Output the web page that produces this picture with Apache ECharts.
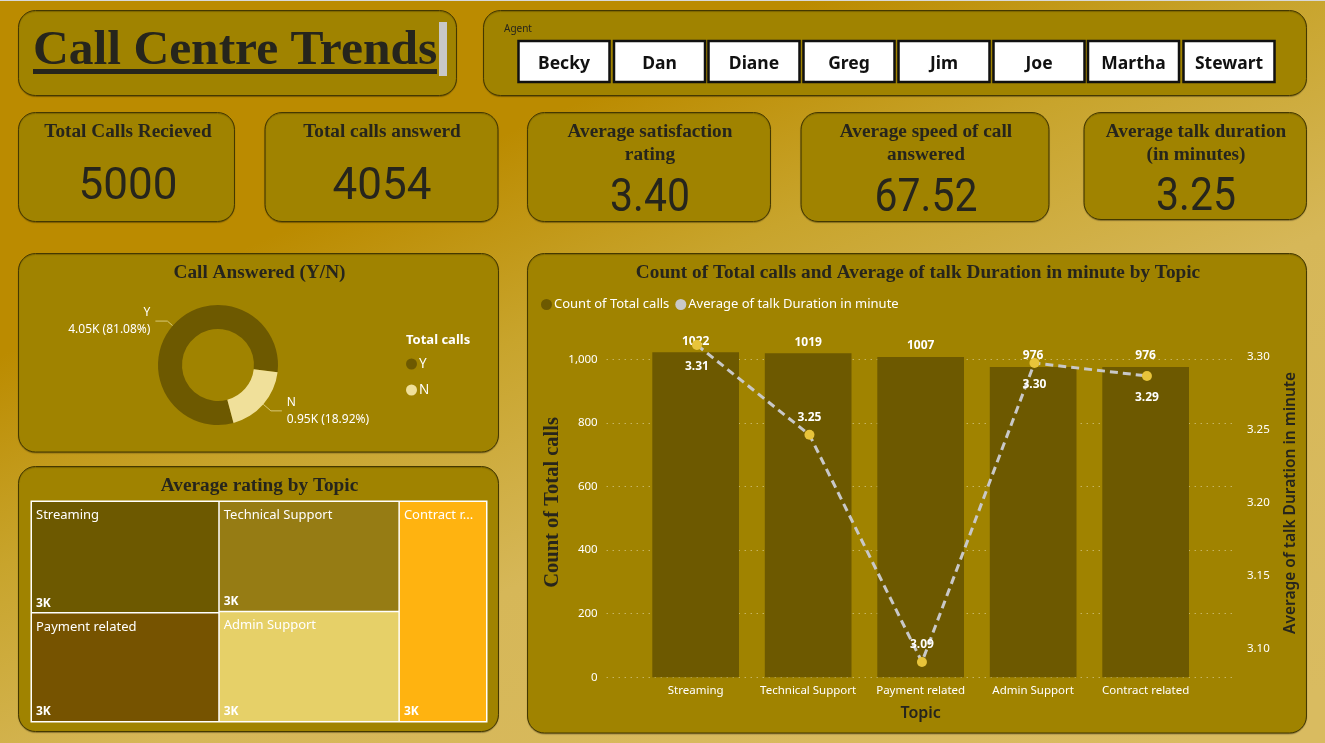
<!DOCTYPE html>
<html>
<head>
<meta charset="utf-8">
<title>Call Centre Trends</title>
<style>
    html, body { margin: 0; padding: 0; }
    #main { width: 1325px; height: 743px; }
</style>
<script src="https://cdn.jsdelivr.net/npm/echarts@6/dist/echarts.min.js"></script>
</head>
<body>
<div id="main"></div>
<script>
// data
var agents = ['Becky', 'Dan', 'Diane', 'Greg', 'Jim', 'Joe', 'Martha', 'Stewart'];
var kpiTitles = ['Total Calls Recieved', 'Total calls answerd', 'Average satisfaction\nrating', 'Average speed of call\nanswered', 'Average talk duration\n(in minutes)'];
var kpiValues = ['5000', '4054', '3.40', '67.52', '3.25'];
var answeredNames = ['Y', 'N'];
var answeredCalls = [4054, 946];
var topics = ['Streaming', 'Technical Support', 'Payment related', 'Admin Support', 'Contract related'];
var totalCalls = [1022, 1019, 1007, 976, 976];
var talkDuration = [3.308, 3.2466, 3.0911, 3.2957, 3.2868];
var ratingSum = [2885, 2735, 2815, 2734, 2660];

// colours
var INK = '#26251c';
var PANEL = '#a08300';
var BROWN = '#6d5900';
var topicColors = ['#6d5900', '#967c14', '#765300', '#e6d068', '#ffb310'];
var SANS = '"Noto Sans", sans-serif';
var SERIF = '"Liberation Serif", serif';

// [x, y, w, h] of the rounded cards
var panels = [
    [18.5, 10.5, 438, 85], [483.5, 10.5, 823, 85],
    [18.5, 112.5, 216, 109], [265, 112.5, 233, 109], [527.5, 112.5, 243, 109], [801, 112.5, 248, 109], [1084, 112.5, 222.5, 107],
    [18.5, 253.5, 480, 198.5], [18.5, 466.5, 480, 265], [527.5, 253.5, 779, 479.5]
];
var kpiCenters = [128, 382, 650, 926, 1196];
var kpiValueY = [188, 188, 199, 199, 198];
var kpiValueFont = ['44px Roboto', '44px Roboto', '46px Roboto', '46px Roboto', '46px Roboto'];
var kpiValueStretch = [1, 1, 0.89, 0.89, 0.89];
var agentLeft = [518.5, 614, 708.5, 803.5, 898.5, 993.5, 1088, 1183.5];
// the serif headings are letter spaced in the original
var SERIF_STRETCH = 1.07;
// where each duration label sits relative to its point
var durationLabelPos = ['bottom', 'top', 'top', 'bottom', 'bottom'];

var myChart = echarts.init(document.getElementById('main'));

function text(str, x, y, font, fill, align, stretch) {
    return {
        type: 'text', z: 1, silent: true,
        x: x, y: y, scaleX: stretch || 1,
        style: { text: str, x: 0, y: 0, font: font, fill: fill || INK, align: align || 'center', verticalAlign: 'middle', lineHeight: 23 }
    };
}

var graphics = [];
graphics.push({ type: 'rect', z: 0, silent: true, shape: { x: 0, y: 0, width: 1325, height: 1 }, style: { fill: '#d8d8d8' } });
panels.forEach(function (p) {
    graphics.push({
        type: 'rect', z: 0, silent: true,
        shape: { x: p[0], y: p[1], width: p[2], height: p[3], r: 17 },
        style: { fill: PANEL, stroke: '#443800', lineWidth: 1, shadowColor: 'rgba(0,0,0,0.25)', shadowOffsetY: 1, shadowBlur: 1 }
    });
});
// big title, the underline is a plain rect since canvas text has none
graphics.push(text('Call Centre Trends', 33, 51, 'bold 49.5px ' + SERIF, INK, 'left'));
graphics.push({ type: 'rect', z: 1, silent: true, shape: { x: 33, y: 69, width: 404, height: 5 }, style: { fill: INK } });
graphics.push({ type: 'rect', z: 1, silent: true, shape: { x: 439, y: 22, width: 8, height: 54 }, style: { fill: '#c8c8c8' } });

// slicer
graphics.push(text('Agent', 504, 29, '10px ' + SANS, INK, 'left'));
agents.forEach(function (a, i) {
    graphics.push({
        type: 'rect', z: 1, silent: true,
        shape: { x: agentLeft[i], y: 41, width: 91, height: 41 },
        style: { fill: '#fff', stroke: '#111', lineWidth: 2.5 }
    });
    graphics.push(text(a, agentLeft[i] + 45.5, 64, 'bold 17.5px ' + SANS, '#111'));
});

// kpi cards
kpiTitles.forEach(function (t, i) {
    var y = t.indexOf('\n') > 0 ? 144 : 132;
    graphics.push(text(t, kpiCenters[i], y, 'bold 18px ' + SERIF, INK, 'center', SERIF_STRETCH));
    graphics.push(text(kpiValues[i], kpiCenters[i], kpiValueY[i], kpiValueFont[i], INK, 'center', kpiValueStretch[i]));
});

// card titles
graphics.push(text('Call Answered (Y/N)', 259.5, 273, 'bold 18px ' + SERIF, INK, 'center', SERIF_STRETCH));
graphics.push(text('Average rating by Topic', 259.5, 486, 'bold 18px ' + SERIF, INK, 'center', SERIF_STRETCH));
graphics.push(text('Count of Total calls and Average of talk Duration in minute by Topic', 918, 273, 'bold 18px ' + SERIF, INK, 'center', SERIF_STRETCH));
graphics.push(text('Total calls', 406, 340, 'bold 13px ' + SANS, '#fff', 'left'));

function treemapData() {
    return topics.map(function (t, i) {
        return { name: t, value: ratingSum[i], itemStyle: { color: topicColors[i] } };
    });
}

var treemapBase = {
    type: 'treemap',
    left: 30.5, top: 500.5, width: 457, height: 222,
    roam: false,
    nodeClick: false,
    silent: true,
    breadcrumb: { show: false }
};

option = {
    // global coordinates: the ramp only starts past a diagonal through the top middle
    backgroundColor: new echarts.graphic.LinearGradient(131, 298, 468, 1066, [
        { offset: 0, color: '#bb8b00' },
        { offset: 0.23, color: '#c8a42c' },
        { offset: 0.5, color: '#d6b758' },
        { offset: 1, color: '#d9bb60' }
    ], true),
    animation: false,
    textStyle: { fontFamily: SANS },
    graphic: graphics,
    legend: [{
        left: 401, top: 352,
        orient: 'vertical',
        itemGap: 12,
        itemWidth: 11, itemHeight: 11,
        selectedMode: false,
        icon: 'circle',
        data: answeredNames,
        textStyle: { color: '#fff', fontSize: 13.5, padding: [0, 0, 0, -3] }
    }, {
        left: 536, top: 293,
        itemGap: 6,
        itemWidth: 11, itemHeight: 11,
        selectedMode: false,
        data: [
            { name: 'Count of Total calls', icon: 'circle', itemStyle: { color: BROWN } },
            { name: 'Average of talk Duration in minute', icon: 'circle', itemStyle: { color: '#c8c8c8' } }
        ],
        textStyle: { color: '#fff', fontSize: 13, padding: [0, 0, 0, -3] }
    }],
    grid: [
        { left: 606.7, top: 327.5, width: 630, height: 349.8, outerBoundsMode: 'none' }, // dotted lines and the count labels
        { left: 639.4, top: 327.5, width: 562.5, height: 349.8, outerBoundsMode: 'none' }, // bars
        { left: 640.7, top: 283.6, width: 562.5, height: 438.5, outerBoundsMode: 'none' } // line, 3.05 - 3.35
    ],
    xAxis: [
        { gridIndex: 0, type: 'value', show: false },
        {
            gridIndex: 1, type: 'category', data: topics,
            axisLine: { show: false }, axisTick: { show: false },
            axisLabel: { color: '#fff', fontSize: 11.5, margin: 7, interval: 0 },
            name: 'Topic', nameLocation: 'middle', nameGap: 28,
            nameTextStyle: { color: INK, fontSize: 16, fontWeight: 600 }
        },
        { gridIndex: 2, type: 'category', data: topics, show: false }
    ],
    yAxis: [
        {
            gridIndex: 0, type: 'value', min: 0, max: 1100, interval: 200,
            axisLine: { show: false }, axisTick: { show: false },
            axisLabel: { color: '#fff', fontSize: 11.5, margin: 9, showMaxLabel: false },
            splitLine: { show: true, showMaxLine: false, lineStyle: { color: '#d8cc90', type: [1, 5], width: 1 } },
            name: 'Count of Total calls', nameLocation: 'middle', nameRotate: 90, nameGap: 43,
            nameTextStyle: { color: INK, fontSize: 20.5, fontWeight: 'bold', fontFamily: SERIF }
        },
        { gridIndex: 1, type: 'value', min: 0, max: 1100, show: false, splitLine: { show: false } },
        {
            gridIndex: 2, type: 'value', position: 'right', offset: 31.7, min: 3.05, max: 3.35, interval: 0.05,
            axisLine: { show: false }, axisTick: { show: false },
            splitLine: { show: false },
            axisLabel: {
                color: '#fff', fontSize: 11.5, margin: 12, showMinLabel: false, showMaxLabel: false, padding: [3, 0, 0, 0],
                formatter: function (v) { return v.toFixed(2); }
            },
            name: 'Average of talk Duration in minute', nameLocation: 'middle', nameRotate: 90, nameGap: 48,
            nameTextStyle: { color: INK, fontSize: 15.5, fontWeight: 600 }
        }
    ],
    series: [{
        name: 'Total calls',
        type: 'pie',
        center: [218, 365],
        radius: [36, 60],
        startAngle: 285,
        percentPrecision: 2,
        silent: true,
        itemStyle: { borderWidth: 0 },
        data: answeredNames.map(function (n, i) {
            return {
                name: n, value: answeredCalls[i],
                itemStyle: { color: i == 0 ? BROWN : '#f0e09a' },
                labelLine: { length: i == 0 ? 7 : 10, length2: i == 0 ? 12 : 11 }
            };
        }),
        label: {
            color: '#fff', fontSize: 12, lineHeight: 17,
            formatter: function (p) {
                return p.name + '\n' + (p.value / 1000).toFixed(2) + 'K (' + p.percent + '%)';
            }
        },
        labelLine: { lineStyle: { color: '#d8c878', width: 1 } }
    },
    Object.assign({}, treemapBase, {
        data: treemapData(),
        levels: [
            { itemStyle: { borderWidth: 1.5, borderColor: '#fff', gapWidth: 1.5 } },
            { itemStyle: { borderWidth: 0 } }
        ],
        label: { position: 'insideTopLeft', color: '#fff', fontSize: 13, offset: [-1, 2] }
    }),
    // same layout again, only to put the value in the bottom corner
    Object.assign({}, treemapBase, {
        data: treemapData().map(function (d) {
            return { name: d.name, value: d.value, itemStyle: { color: 'rgba(0,0,0,0)' } };
        }),
        levels: [
            { itemStyle: { borderWidth: 1.5, borderColor: 'rgba(0,0,0,0)', gapWidth: 1.5 } },
            { itemStyle: { borderWidth: 0 } }
        ],
        label: {
            position: 'insideBottomLeft', color: '#fff', fontSize: 12, fontWeight: 'bold', offset: [-1, 2],
            formatter: function (p) { return Math.round(p.value / 1000) + 'K'; }
        }
    }),
    {
        name: 'Count of Total calls',
        type: 'bar',
        xAxisIndex: 1,
        yAxisIndex: 1,
        barWidth: 86.7,
        silent: true,
        itemStyle: { color: BROWN },
        label: { show: true, position: 'top', color: '#fff', fontSize: 12, fontWeight: 'bold', distance: 5 },
        data: totalCalls
    }, {
        name: 'Average of talk Duration in minute',
        type: 'line',
        xAxisIndex: 2,
        yAxisIndex: 2,
        symbol: 'circle',
        symbolSize: 10,
        silent: true,
        itemStyle: { color: '#e8c43a' },
        lineStyle: { color: '#c8c8c8', width: 3, type: [8, 5] },
        label: {
            show: true, color: '#fff', fontSize: 12, fontWeight: 'bold',
            formatter: function (p) { return p.value.toFixed(2); }
        },
        data: talkDuration.map(function (v, i) {
            var pos = durationLabelPos[i];
            return { value: v, label: { position: pos, distance: pos == 'top' ? 6 : 11 } };
        })
    }]
};

myChart.setOption(option);
</script>
</body>
</html>
